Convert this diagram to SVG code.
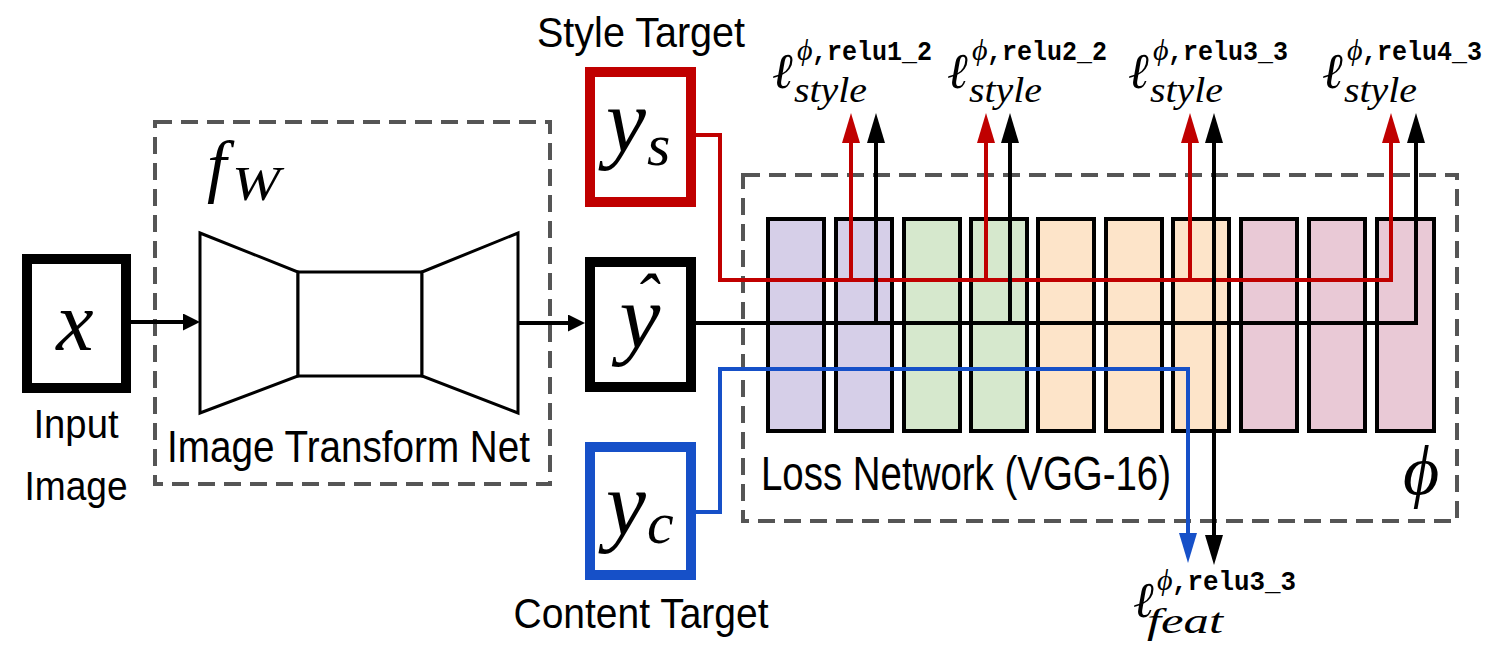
<svg xmlns="http://www.w3.org/2000/svg" width="1494" height="658" viewBox="0 0 1494 658">
<style>
.dash{fill:none;stroke:#555;stroke-width:4;stroke-dasharray:17 9}
.box{fill:#fff;stroke-width:10}
.blk{stroke:#000;stroke-width:4}
.net{fill:#fff;stroke:#000;stroke-width:3;stroke-linejoin:miter}
.sans{font-family:"Liberation Sans",Arial,sans-serif;fill:#000}
.math{font-family:"Liberation Serif","DejaVu Serif",serif;font-style:italic;fill:#000}
.mono{font-family:"Liberation Mono","DejaVu Sans Mono",monospace;font-weight:bold;fill:#000}
.ln{fill:none;stroke-width:4}
.k{stroke:#000}
.r{stroke:#c00000}
.b{stroke:#1650c8}
.pu{fill:#d6cfe8}.gr{fill:#d6e8cd}.or{fill:#fde4c9}.pk{fill:#e9c9d6}
</style>
<defs>
<marker id="ak" markerUnits="userSpaceOnUse" markerWidth="30" markerHeight="18" refX="8" refY="9" orient="auto"><path d="M0,0 L30,9 L0,18 z" fill="#000"/></marker>
<marker id="ar" markerUnits="userSpaceOnUse" markerWidth="30" markerHeight="18" refX="8" refY="9" orient="auto"><path d="M0,0 L30,9 L0,18 z" fill="#c00000"/></marker>
<marker id="ab" markerUnits="userSpaceOnUse" markerWidth="30" markerHeight="18" refX="8" refY="9" orient="auto"><path d="M0,0 L30,9 L0,18 z" fill="#1650c8"/></marker>
<marker id="as" markerUnits="userSpaceOnUse" markerWidth="18" markerHeight="18" refX="5" refY="8.5" orient="auto"><path d="M0,0 L17,8.5 L0,17 z" fill="#000"/></marker>
</defs>
<rect width="1494" height="658" fill="#fff"/>

<g id="transform-net">
<rect class="dash" x="155" y="122" width="395" height="362"/>
<polygon class="net" points="200,233 298,272 298,376 200,413"/>
<rect class="net" x="298" y="272" width="124" height="104"/>
<polygon class="net" points="422,272 518,233 518,413 422,376"/>
<text class="math" x="207" y="189" font-size="70">f</text>
<text class="math" x="232" y="200" font-size="48" textLength="48" lengthAdjust="spacingAndGlyphs">W</text>
<text class="sans" x="167" y="462" font-size="44" textLength="363" lengthAdjust="spacingAndGlyphs">Image Transform Net</text>
</g>

<g id="loss-net">
<rect class="dash" x="743" y="175" width="714" height="346"/>
<rect class="blk pu" x="768" y="219" width="56" height="212"/>
<rect class="blk pu" x="836" y="219" width="56" height="212"/>
<rect class="blk gr" x="904" y="219" width="56" height="212"/>
<rect class="blk gr" x="971" y="219" width="56" height="212"/>
<rect class="blk or" x="1038" y="219" width="56" height="212"/>
<rect class="blk or" x="1106" y="219" width="56" height="212"/>
<rect class="blk or" x="1173" y="219" width="56" height="212"/>
<rect class="blk pk" x="1241" y="219" width="56" height="212"/>
<rect class="blk pk" x="1309" y="219" width="56" height="212"/>
<rect class="blk pk" x="1377" y="219" width="57" height="212"/>
<text class="sans" x="761" y="490" font-size="48" textLength="410" lengthAdjust="spacingAndGlyphs">Loss Network (VGG-16)</text>
<text class="math" x="1403" y="494" font-size="70">ϕ</text>
</g>

<g id="input-x">
<rect class="box" x="27" y="259" width="99" height="129" stroke="#000"/>
<text class="math" x="75" y="350" font-size="84" text-anchor="middle">x</text>
<text class="sans" x="76" y="438" font-size="40" text-anchor="middle" textLength="85" lengthAdjust="spacingAndGlyphs">Input</text>
<text class="sans" x="76" y="500" font-size="40" text-anchor="middle" textLength="103" lengthAdjust="spacingAndGlyphs">Image</text>
</g>

<g id="output-yhat">
<rect class="box" x="590" y="262" width="101" height="125" stroke="#000"/>
<text class="math" x="640" y="348" font-size="92" text-anchor="middle">y</text>
<text class="math" x="646" y="322" font-size="70" text-anchor="middle">ˆ</text>
</g>

<g id="style-target">
<rect class="box" x="590" y="72" width="101" height="130" stroke="#c00000"/>
<text class="math" x="606" y="152" font-size="90">y</text>
<text class="math" x="647" y="165" font-size="60">s</text>
<text class="sans" x="641" y="47" font-size="42" text-anchor="middle" textLength="208" lengthAdjust="spacingAndGlyphs">Style Target</text>
</g>

<g id="content-target">
<rect class="box" x="590" y="447" width="101" height="128" stroke="#1650c8"/>
<text class="math" x="606" y="535" font-size="90">y</text>
<text class="math" x="647" y="543" font-size="60">c</text>
<text class="sans" x="641" y="628" font-size="43" text-anchor="middle" textLength="255" lengthAdjust="spacingAndGlyphs">Content Target</text>
</g>

<g id="connectors">
<line class="ln k" x1="131" y1="322" x2="188" y2="322" marker-end="url(#as)"/>
<line class="ln k" x1="518" y1="323" x2="573" y2="323" marker-end="url(#as)"/>
<polyline class="ln r" points="696,135 720,135 720,280 1393,280"/>
<line class="ln r" x1="851" y1="282" x2="851" y2="135" marker-end="url(#ar)"/>
<line class="ln r" x1="986" y1="282" x2="986" y2="135" marker-end="url(#ar)"/>
<line class="ln r" x1="1190" y1="282" x2="1190" y2="135" marker-end="url(#ar)"/>
<line class="ln r" x1="1391" y1="282" x2="1391" y2="135" marker-end="url(#ar)"/>
<line class="ln k" x1="696" y1="323" x2="1418" y2="323"/>
<line class="ln k" x1="876" y1="325" x2="876" y2="135" marker-end="url(#ak)"/>
<line class="ln k" x1="1010" y1="325" x2="1010" y2="135" marker-end="url(#ak)"/>
<line class="ln k" x1="1214" y1="325" x2="1214" y2="135" marker-end="url(#ak)"/>
<line class="ln k" x1="1416" y1="325" x2="1416" y2="135" marker-end="url(#ak)"/>
<line class="ln k" x1="1214" y1="321" x2="1214" y2="543" marker-end="url(#ak)"/>
<polyline class="ln b" points="696,512 720,512 720,369 1188,369 1188,541" marker-end="url(#ab)"/>
</g>

<g id="labels">
<g id="l-style-1">
<text class="math" x="772" y="88" font-size="50">ℓ</text>
<text class="math" x="797" y="60" font-size="30">ϕ</text>
<text class="mono" x="812" y="60" font-size="28" textLength="120" lengthAdjust="spacingAndGlyphs">,relu1_2</text>
<text class="math" x="794" y="102" font-size="36" textLength="73" lengthAdjust="spacingAndGlyphs">style</text>
</g>
<g id="l-style-2">
<text class="math" x="947" y="88" font-size="50">ℓ</text>
<text class="math" x="972" y="60" font-size="30">ϕ</text>
<text class="mono" x="987" y="60" font-size="28" textLength="120" lengthAdjust="spacingAndGlyphs">,relu2_2</text>
<text class="math" x="969" y="102" font-size="36" textLength="73" lengthAdjust="spacingAndGlyphs">style</text>
</g>
<g id="l-style-3">
<text class="math" x="1128" y="88" font-size="50">ℓ</text>
<text class="math" x="1153" y="60" font-size="30">ϕ</text>
<text class="mono" x="1168" y="60" font-size="28" textLength="120" lengthAdjust="spacingAndGlyphs">,relu3_3</text>
<text class="math" x="1150" y="102" font-size="36" textLength="73" lengthAdjust="spacingAndGlyphs">style</text>
</g>
<g id="l-style-4">
<text class="math" x="1322" y="88" font-size="50">ℓ</text>
<text class="math" x="1347" y="60" font-size="30">ϕ</text>
<text class="mono" x="1362" y="60" font-size="28" textLength="120" lengthAdjust="spacingAndGlyphs">,relu4_3</text>
<text class="math" x="1344" y="102" font-size="36" textLength="73" lengthAdjust="spacingAndGlyphs">style</text>
</g>
<g id="l-feat">
<text class="math" x="1133" y="617" font-size="50">ℓ</text>
<text class="math" x="1157" y="590" font-size="30">ϕ</text>
<text class="mono" x="1172" y="590" font-size="28" textLength="124" lengthAdjust="spacingAndGlyphs">,relu3_3</text>
<text class="math" x="1147" y="633" font-size="36" textLength="76" lengthAdjust="spacingAndGlyphs">feat</text>
</g>
</g>
</svg>
